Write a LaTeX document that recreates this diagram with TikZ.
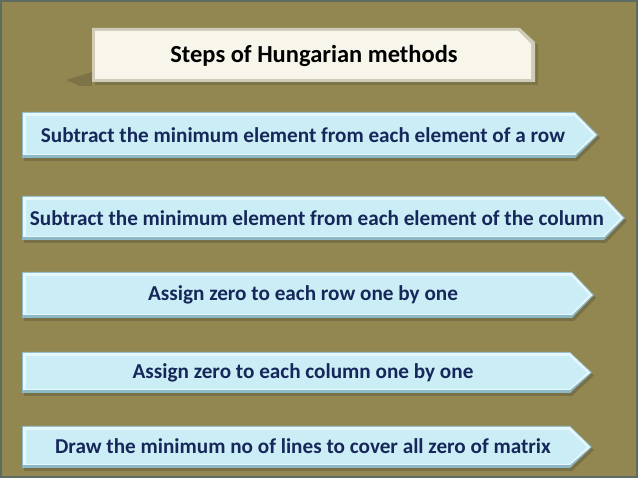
\documentclass[tikz,border=0pt]{standalone}
\usepackage{fontspec}
\setmainfont{Carlito}
\definecolor{bgolive}{HTML}{938751}
\definecolor{framec}{HTML}{5E6B60}
\definecolor{boxfill}{HTML}{CBEDF6}
\definecolor{boxedge}{HTML}{8DB9C6}
\definecolor{boxlight}{HTML}{E6F8FC}
\definecolor{shadowc}{HTML}{6E6841}
\definecolor{txtc}{HTML}{16275A}
\definecolor{titlefill}{HTML}{F8F6EA}
\definecolor{titleedge}{HTML}{CFCBB6}
\tikzset{
  steptext/.style={font=\bfseries\fontsize{21.2}{24}\selectfont, text=txtc, inner sep=0pt},
  titletext/.style={font=\bfseries\fontsize{24.5}{28}\selectfont, text=black, inner sep=0pt}
}
\newcommand{\stepshape}[5]{%
  % #1 left x, #2 top y, #3 bottom y, #4 body end x, #5 tip x
  \fill[shadowc,opacity=0.7] (#1+2,#2+3) -- (#4+2,#2+3) -- (#5+2,{(#2+#3)/2+3}) -- (#4+2,#3+3) -- (#1+2,#3+3) -- cycle;
  \fill[boxedge] (#1,#2) -- (#4,#2) -- (#5,{(#2+#3)/2}) -- (#4,#3) -- (#1,#3) -- cycle;
  \fill[boxlight] (#1+1,#2+1) -- (#4,#2+1) -- (#5-1.5,{(#2+#3)/2}) -- (#4,#3-3) -- (#1+1,#3-3) -- cycle;
  \fill[boxfill] (#1+4,#2+4) -- (#4-1,#2+4) -- (#5-5,{(#2+#3)/2}) -- (#4-1,#3-4) -- (#1+4,#3-4) -- cycle;
}
\begin{document}
\begin{tikzpicture}[x=1pt,y=-1pt]
\useasboundingbox (0,0) rectangle (638,478);
\fill[bgolive] (0,0) rectangle (638,478);
\draw[framec,line width=2pt] (1,1) rectangle (637,477);
% title
\fill[shadowc,opacity=0.6] (66,80) -- (92,72) -- (92,86) -- (80,86) -- cycle;
\fill[shadowc,opacity=0.6] (95,31) -- (523,31) -- (538,45) -- (538,85) -- (95,85) -- cycle;
\fill[titleedge] (92,28) -- (520,28) -- (535,42) -- (535,82) -- (92,82) -- cycle;
\fill[titlefill] (95,31) -- (518,31) -- (531,44) -- (531,79) -- (95,79) -- cycle;
\node[titletext] (title) at (314,56) {Steps of Hungarian methods};
% steps
\stepshape{22}{112}{158}{575}{598}
\node[steptext] (s1) at (303,135) {Subtract the minimum element from each element of a row};
\stepshape{22}{196}{240}{604}{625}
\node[steptext] (s2) at (317,218) {Subtract the minimum element from each element of the column};
\stepshape{22}{272}{318}{572}{594}
\node[steptext] (s3) at (303,295) {Assign zero to each row one by one};
\stepshape{22}{352}{393}{570}{592}
\node[steptext] (s4) at (303,373) {Assign zero to each column one by one};
\stepshape{22}{426}{468}{570}{592}
\node[steptext] (s5) at (303,446) {Draw the minimum no of lines to cover all zero of matrix};
\end{tikzpicture}
\end{document}
